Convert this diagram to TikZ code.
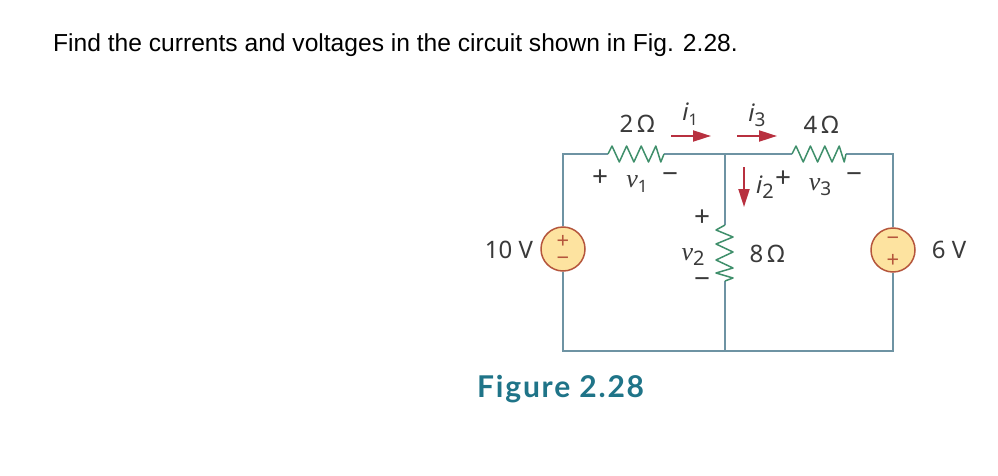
\documentclass[tikz,border=0pt]{standalone}
\usepackage{fontspec}
\setmainfont{Liberation Sans}
\newfontfamily\lab{Noto Sans}
\newfontfamily\serifv{Liberation Serif}
\newfontfamily\figf[LetterSpace=6]{Lato}
\definecolor{wirec}{HTML}{6E93A3}
\definecolor{resc}{HTML}{3F8F6B}
\definecolor{arrc}{HTML}{B8303F}
\definecolor{srcfill}{HTML}{FDE3A0}
\definecolor{srcdraw}{HTML}{B5563C}
\definecolor{labc}{HTML}{3A3A3A}
\definecolor{figc}{HTML}{1F7488}
\usetikzlibrary{arrows.meta}
\newcommand{\vv}[2]{{\serifv\itshape\fontsize{26}{26}\selectfont v}\raisebox{-0.2em}{\fontsize{#2}{#2}\selectfont #1}}
\newcommand{\ii}[2]{{\itshape i}\raisebox{-0.2em}{\fontsize{#2}{#2}\selectfont #1}}
\tikzset{
  wire/.style={draw=wirec,line width=1.1pt},
  res/.style={draw=resc,line width=1.5pt,line join=round},
  curr/.style={draw=arrc,line width=2pt,-{Triangle[length=18pt,width=11pt]}},
  src/.style={circle,draw=srcdraw,fill=srcfill,line width=1.5pt,minimum size=44pt,inner sep=0pt},
  lbl/.style={font=\lab\fontsize{24}{24}\selectfont,text=labc,inner sep=0pt},
  sym/.style={font=\lab\fontsize{28}{28}\selectfont,text=labc,inner sep=0pt},
  srcsign/.style={font=\lab\fontsize{22}{22}\selectfont,text=srcdraw,inner sep=0pt}
}
\begin{document}
\begin{tikzpicture}[x=1pt,y=-1pt]
\useasboundingbox (0,0) rectangle (998,476);
\fill[white] (0,0) rectangle (998,476);
\node[anchor=base west,inner sep=0pt,font=\fontsize{24.6}{24.6}\selectfont,text=black] (title) at (53,51.5) {Find the currents and voltages in the circuit shown in Fig. 2.28.};
% corners and junctions
\coordinate (tl) at (563,154);
\coordinate (tm) at (725,154);
\coordinate (tr) at (893,154);
\coordinate (bl) at (563,351);
\coordinate (bm) at (725,351);
\coordinate (br) at (893,351);
\coordinate (r1a) at (608,154);
\coordinate (r1b) at (664,154);
\coordinate (r3a) at (792,154);
\coordinate (r3b) at (846,154);
\coordinate (r2a) at (725,225);
\coordinate (r2b) at (725,281);
% sources
\node[src] (vs1) at (563,249) {};
\node[src] (vs2) at (893,250) {};
% wires
\draw[wire] (vs1.north) -- (tl) -- (r1a);
\draw[wire] (r1b) -- (tm) -- (r3a);
\draw[wire] (r3b) -- (tr) -- (vs2.north);
\draw[wire] (tm) -- (r2a);
\draw[wire] (r2b) -- (bm);
\draw[wire] (vs1.south) -- (bl) -- (bm) -- (br) -- (vs2.south);
% resistors
\draw[res] (r1a) -- ++(4,-8) -- ++(7.3,16) -- ++(7.3,-16) -- ++(7.3,16) -- ++(7.3,-16) -- ++(7.3,16) -- ++(7.3,-16) -- ++(5,16) -- (r1b);
\draw[res] (r3a) -- ++(4,-8) -- ++(7.2,16) -- ++(7.2,-16) -- ++(7.2,16) -- ++(7.2,-16) -- ++(7.2,16) -- ++(7.2,-16) -- ++(5,16) -- (r3b);
\draw[res] (r2a) -- (716,230) -- (733,237) -- (716,244) -- (733,252) -- (716,260) -- (733,268) -- (716,273) -- (733,278) -- (r2b);
% source signs
\node[srcsign] (p1) at (563,242) {+};
\node[srcsign] (m1) at (563,261) {−};
\node[srcsign] (m2) at (893,241) {−};
\node[srcsign] (p2) at (893,261) {+};
% currents
\coordinate (i1a) at (671,136); \coordinate (i1b) at (711,136);
\coordinate (i3a) at (737,136); \coordinate (i3b) at (777,136);
\coordinate (i2a) at (744,167); \coordinate (i2b) at (744,207);
\draw[curr] (i1a) -- (i1b);
\draw[curr] (i3a) -- (i3b);
\draw[curr] (i2a) -- (i2b);
% labels
\node[lbl] (l2) at (637,124) {2\,Ω};
\node[lbl] (l4) at (821,125) {4\,Ω};
\node[lbl] (l8) at (767,254) {8\,Ω};
\node[lbl] (l10) at (509,250) {10 V};
\node[lbl] (l6) at (949,250) {6 V};
\node[lbl] (li1) at (690,114) {\ii{1}{16}};
\node[lbl] (li3) at (757,115) {\ii{3}{19}};
\node[lbl] (li2) at (765,187) {\ii{2}{20}};
\node[lbl] (lv1) at (637,184) {\vv{1}{17}};
\node[lbl] (lv3) at (820,187) {\vv{3}{19}};
\node[lbl] (lv2) at (693,257) {\vv{2}{20}};
\node[sym] (s1p) at (600,178) {+};
\node[sym] (s1m) at (670,178) {−};
\node[sym] (s3p) at (783,179) {+};
\node[sym] (s3m) at (854,178) {−};
\node[sym] (s2p) at (702,218) {+};
\node[sym] (s2m) at (702,283) {−};
\node[anchor=base west,inner sep=0pt,font=\figf\bfseries\fontsize{30}{30}\selectfont,text=figc] (fig) at (477,397) {Figure 2.28};
\end{tikzpicture}
\end{document}
